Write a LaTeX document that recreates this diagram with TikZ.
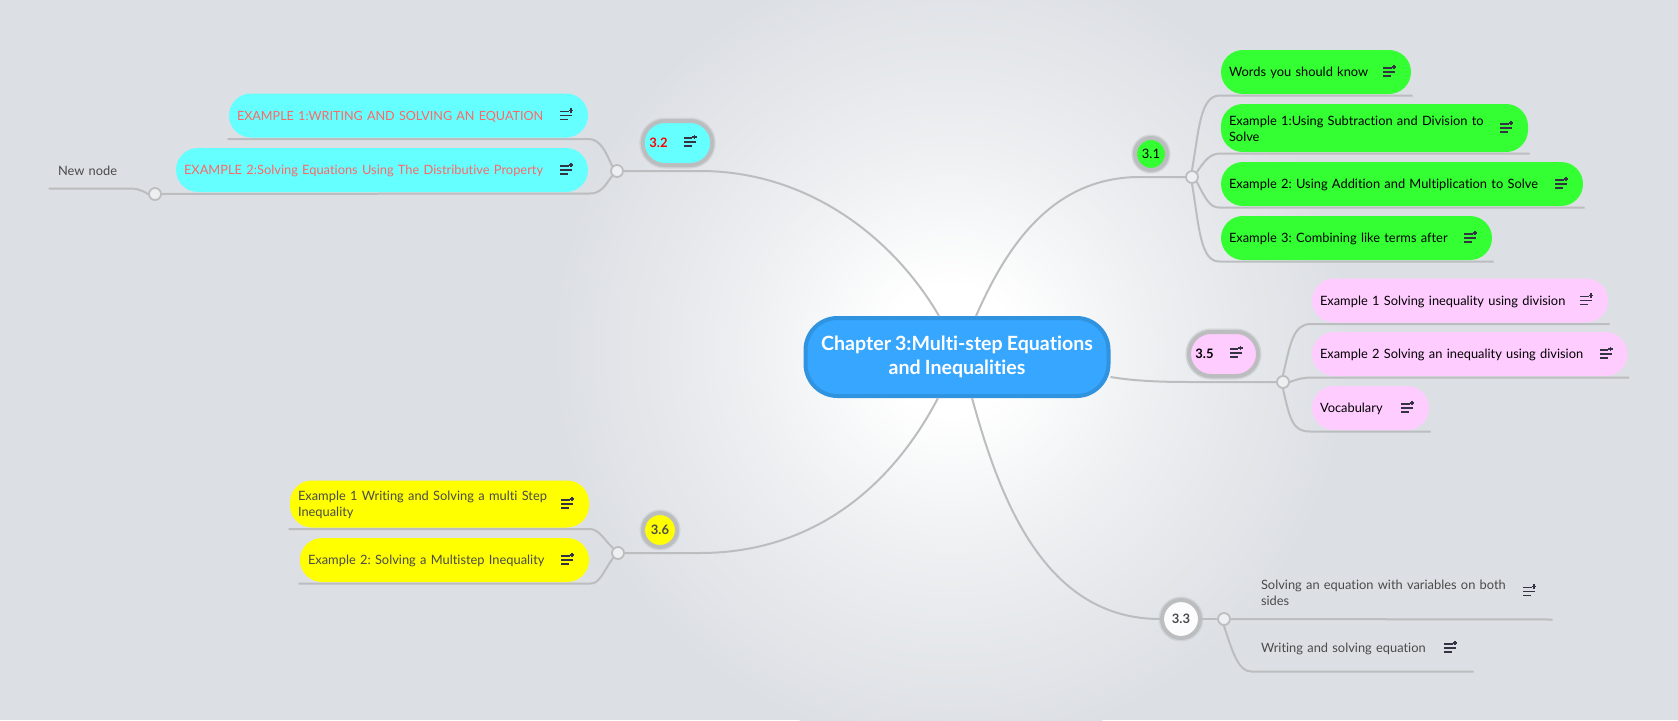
\documentclass[tikz,border=0pt]{standalone}
\usepackage{fontspec}
\setmainfont{Lato}[WordSpace=0.85,Ligatures=NoCommon]
\definecolor{bgedge}{HTML}{DCDFE4}
\definecolor{bgmid}{HTML}{EDEFF1}
\definecolor{wire}{HTML}{BBBDBF}
\definecolor{rootblue}{HTML}{36A6FF}
\definecolor{rootedge}{HTML}{2F93E0}
\definecolor{greenpill}{HTML}{33FF33}
\definecolor{pinkpill}{HTML}{FFCCFF}
\definecolor{cyanpill}{HTML}{66FFFF}
\definecolor{yellowpill}{HTML}{FFFF00}
\definecolor{salmontext}{HTML}{FF6666}
\definecolor{greytext}{HTML}{4A4A4A}
\definecolor{iconink}{HTML}{333344}
\pgfdeclareradialshading{mapglow}{\pgfpoint{0bp}{0bp}}{color(0bp)=(white); color(4bp)=(white); color(13bp)=(bgmid); color(25bp)=(bgedge); color(50bp)=(bgedge)}
\begin{document}
\begin{tikzpicture}[x=1pt,y=-1pt,
    every node/.style={inner sep=0pt},
    pill/.style={anchor=west,xshift=-1.5pt,rounded corners=22pt,minimum height=44pt,outer sep=1.5pt,
        align=left,inner xsep=8pt,font=\fontsize{12.85}{16}\selectfont\frenchspacing,
        execute at begin node={\leavevmode\rule{0pt}{12pt}}},
    ring/.style={draw=wire,line width=4pt,rounded corners=22pt,minimum height=44pt,
        preaction={draw=wire!35!bgedge,line width=7pt},
        font=\fontsize{13}{16}\selectfont\bfseries},
    knob/.style={circle,draw=wire,fill=bgmid,line width=1.8pt,minimum size=12pt},
    wireline/.style={draw=wire,line width=2pt},
    noteicon/.pic={
        \draw [iconink,line width=1.5pt] (-7.2,-4) -- (1,-4);
        \draw [iconink,line width=1.5pt] (-7.2,0) -- (4.5,0);
        \draw [iconink,line width=1.5pt] (-7.2,4) -- (0.5,4);
        \draw [iconink,line width=1.2pt] (1.2,-5) -- (5.8,-5);
        \draw [iconink,line width=1.2pt] (3.5,-7.3) -- (3.5,-2.7);
    }]
    \useasboundingbox (0,0) rectangle (1678,720);
    \fill [bgedge] (0,0) rectangle (1678,720);
    \begin{scope}
    \clip (0,0) rectangle (1678,720);
    \shade [shading=mapglow] (951,350) circle (400);
    \end{scope}
    \node [draw=rootedge,fill=rootblue,line width=4pt,rounded corners=32pt,minimum width=303pt,minimum height=78pt,
        align=center,text=white,font=\fontsize{19.6}{24}\selectfont\bfseries] (root) at (957,357) {Chapter 3:Multi-step Equations\\and Inequalities};
    \node [ring,circle,fill=greenpill,minimum size=32pt,font=\fontsize{13}{16}\selectfont] (n31) at (1151,154) {3.1};
    \node [knob] (j31) at (1192,177) {};
    \node [pill,fill=greenpill,text width=174pt] (words) at (1221,72) {Words you should know};
    \node [pill,fill=greenpill,text width=291pt,minimum height=48pt] (exa) at (1221,128) {Example 1:Using Subtraction and Division to\\Solve};
    \node [pill,fill=greenpill,text width=346pt] (exb) at (1221,184) {Example 2: Using Addition and Multiplication to Solve};
    \node [pill,fill=greenpill,text width=255pt] (exc) at (1221,238) {Example 3: Combining like terms after};
    \node [ring,fill=pinkpill,minimum width=69pt] (n35) at (1223.5,354) {};
    \node [font=\fontsize{13}{16}\selectfont\bfseries] (t35) at (1204.5,354) {3.5};
    \node [knob] (j35) at (1283,382) {};
    \node [pill,fill=pinkpill,text width=280pt] (inqa) at (1312,300.5) {Example 1 Solving inequality using division};
    \node [pill,fill=pinkpill,text width=299.5pt] (inqb) at (1312,354) {Example 2 Solving an inequality using division};
    \node [pill,fill=pinkpill,text width=101pt] (vocab) at (1312,408) {Vocabulary};
    \node [ring,fill=cyanpill,minimum width=69.5pt] (n32) at (677.5,143) {};
    \node [text=red,font=\fontsize{13}{16}\selectfont\bfseries] (t32) at (658.5,143) {3.2};
    \node [knob] (j32) at (617,171) {};
    \node [knob] (j32b) at (155,194) {};
    \node [pill,fill=cyanpill,text=salmontext,text width=343pt,font=\fontsize{12.6}{16}\selectfont] (eqa) at (229,115.5) {EXAMPLE 1:WRITING AND SOLVING AN EQUATION};
    \node [pill,fill=cyanpill,text=salmontext,text width=396pt] (eqb) at (176,170) {EXAMPLE 2:Solving Equations Using The Distributive Property};
    \node [pill,text=greytext,text width=60pt,minimum height=34pt] (newnode) at (50,170) {New node};
    \node [ring,circle,fill=yellowpill,minimum size=34pt,text=greytext] (n36) at (660,530) {3.6};
    \node [knob] (j36) at (618,553) {};
    \node [pill,fill=yellowpill,text=greytext,text width=283pt,minimum height=47pt] (msa) at (290,504) {Example 1 Writing and Solving a multi Step\\Inequality};
    \node [pill,fill=yellowpill,text=greytext,text width=273pt] (msb) at (300,560) {Example 2: Solving a Multistep Inequality};
    \node [ring,circle,fill=white!85!blue!8,minimum size=38pt,text=greytext] (n33) at (1181,619) {3.3};
    \node [knob] (j33) at (1224,619) {};
    \node [pill,text=greytext,text width=282pt,minimum height=53pt] (sva) at (1253,591.5) {Solving an equation with variables on both\\sides};
    \node [pill,text=greytext,text width=203pt] (svb) at (1253,648) {Writing and solving equation};
    \pic at ([xshift=-22pt]words.east) {noteicon};
    \pic at ([xshift=-22pt]exa.east) {noteicon};
    \pic at ([xshift=-22pt]exb.east) {noteicon};
    \pic at ([xshift=-22pt]exc.east) {noteicon};
    \pic at (1237,353) {noteicon};
    \pic at ([xshift=-22pt]inqa.east) {noteicon};
    \pic at ([xshift=-22pt]inqb.east) {noteicon};
    \pic at ([xshift=-22pt]vocab.east) {noteicon};
    \pic at (691,142) {noteicon};
    \pic at ([xshift=-22pt]eqa.east) {noteicon};
    \pic at ([xshift=-22pt]eqb.east) {noteicon};
    \pic at ([xshift=-22pt]msa.east) {noteicon};
    \pic at ([xshift=-22pt]msb.east) {noteicon};
    \pic at ([xshift=-22pt]sva.east) {noteicon};
    \pic at ([xshift=-22pt]svb.east) {noteicon};
    \draw [wireline] ([xshift=19pt]root.north) .. controls (1005,250) and (1050,177) .. (1140,177) -- (j31.west);
    \draw [wireline] ([xshift=-18pt]root.north) .. controls (895,240) and (810,171) .. (700,171) -- (j32.east);
    \draw [wireline] ([yshift=-20pt]root.east) .. controls (1135,381) and (1160,382) .. (1190,382) -- (j35.west);
    \draw [wireline] ([xshift=-19pt]root.south) .. controls (890,490) and (810,553) .. (700,553) -- (j36.east);
    \draw [wireline] ([xshift=15pt]root.south) .. controls (1000,500) and (1045,619) .. (n33.west);
    \draw [wireline] (j31.north) .. controls (1199,130) and (1200,96) .. (words.south west) -- (words.south east);
    \draw [wireline] (j31.north east) .. controls (1205,160) and (1210,154) .. (exa.south west) -- (exa.south east);
    \draw [wireline] (j31.south east) .. controls (1205,198) and (1210,208) .. (exb.south west) -- (exb.south east);
    \draw [wireline] (j31.south) .. controls (1199,225) and (1200,262) .. (exc.south west) -- (exc.south east);
    \draw [wireline] (j35.north) .. controls (1290,345) and (1293,324) .. (inqa.south west) -- (inqa.south east);
    \draw [wireline] (j35.east) .. controls (1295,380) and (1300,378) .. (inqb.south west) -- (inqb.south east);
    \draw [wireline] (j35.south) .. controls (1290,420) and (1293,432) .. (vocab.south west) -- (vocab.south east);
    \draw [wireline] (j32.north west) .. controls (605,150) and (600,140) .. (eqa.south east) -- (eqa.south west);
    \draw [wireline] (j32.south west) .. controls (605,186) and (600,194) .. (eqb.south east) -- (j32b.east);
    \draw [wireline] (j32b.west) .. controls (142,190) and (135,188) .. (newnode.south east) -- (newnode.south west);
    \draw [wireline] (j36.north west) .. controls (604,540) and (600,530) .. (msa.south east) -- (msa.south west);
    \draw [wireline] (j36.south west) .. controls (604,570) and (600,584) .. (msb.south east) -- (msb.south west);
    \draw [wireline] (n33.east) -- (j33.west);
    \draw [wireline] (j33.east) -- (sva.south east);
    \draw [wireline] (j33.south) .. controls (1232,650) and (1238,672) .. (svb.south west) -- (svb.south east);
\end{tikzpicture}
\end{document}
